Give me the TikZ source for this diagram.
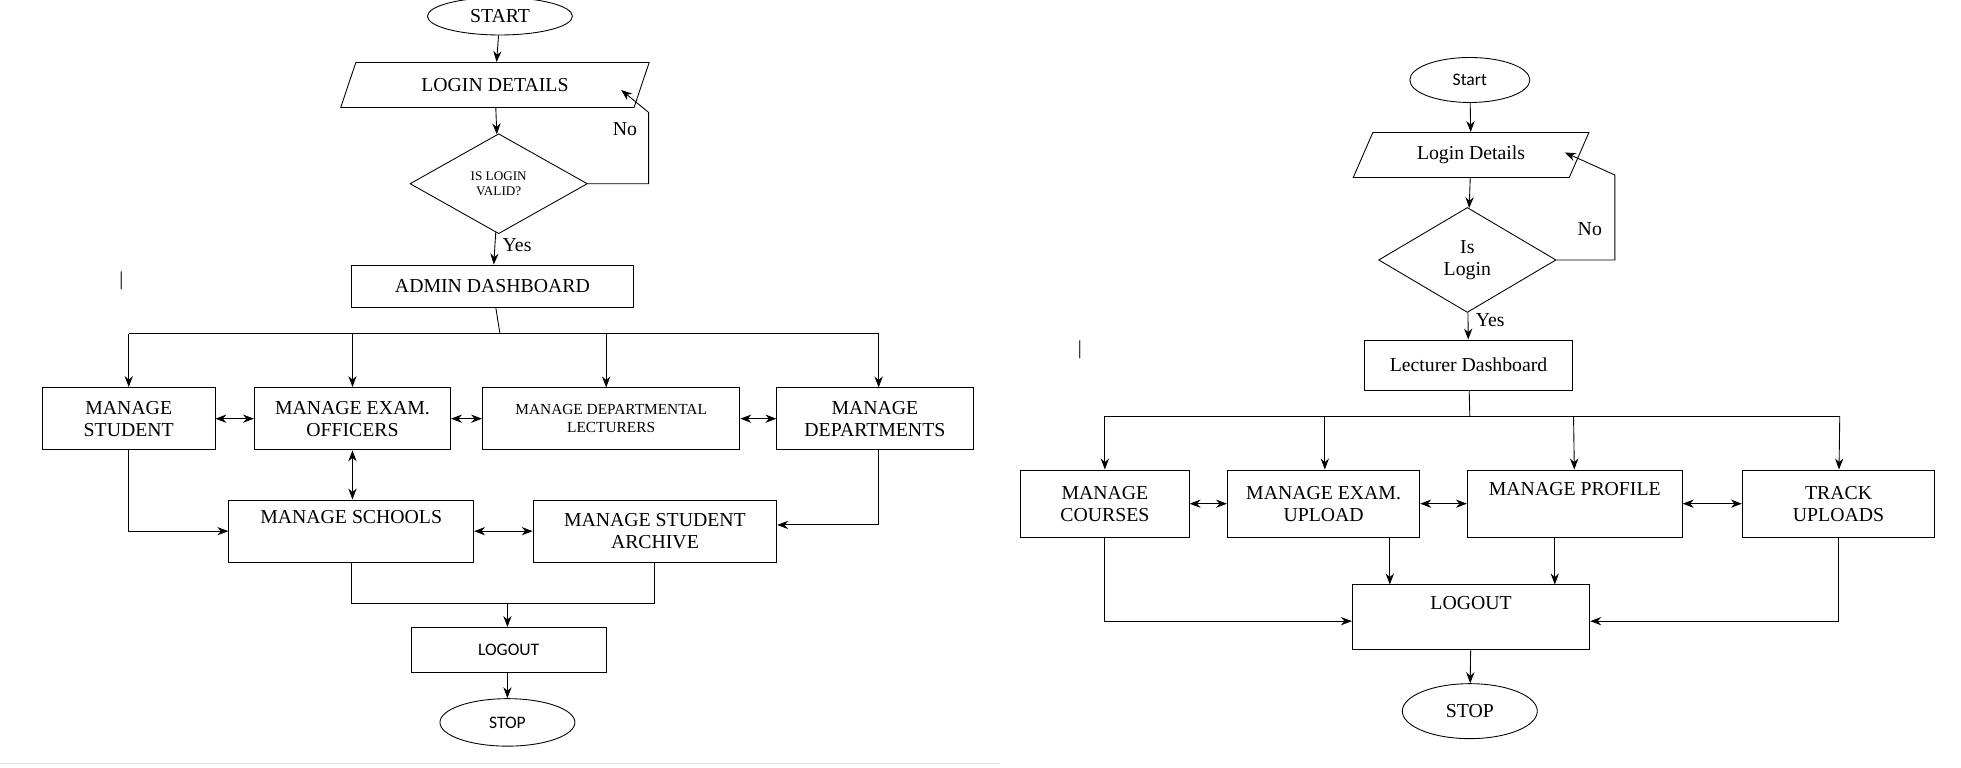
\documentclass[tikz,border=0pt]{standalone}
\usepackage{fontspec}
\setmainfont{Liberation Serif}
\newfontfamily\sansf{Carlito}
\usetikzlibrary{shapes.geometric,arrows.meta}
\begin{document}
\begin{tikzpicture}[x=0.02cm,y=-0.02cm,
    box/.style = {draw, align=center, inner sep=1pt, font=\fontsize{9}{10}\selectfont},
    term/.style = {draw, ellipse, inner sep=0pt, font=\fontsize{9}{10}\selectfont},
    io/.style = {draw, trapezium, trapezium left angle=59, trapezium right angle=121,
        trapezium stretches=true, inner sep=0pt, font=\fontsize{9}{10}\selectfont},
    dec/.style = {draw, diamond, inner sep=0pt, align=center},
    line/.style = {-{Stealth[length=5pt]}},
    both/.style = {{Stealth[length=5pt]}-{Stealth[length=5pt]}},
    lab/.style = {font=\fontsize{9}{10}\selectfont}]
    \useasboundingbox (0,0) rectangle (1569,614);

    % admin flow
    \node[term, minimum width=2.32cm, minimum height=0.6cm] (start) at (400,13) {START};
    \node[io, minimum width=4.96cm, minimum height=0.72cm] (login) at (396,68) {LOGIN DETAILS};
    \node[dec, minimum width=2.84cm, minimum height=1.6cm, font=\fontsize{6}{7}\selectfont] (valid) at (399,147) {IS LOGIN\\VALID?};
    \node[box, minimum width=4.5cm, minimum height=0.68cm] (admin) at (394,229) {ADMIN DASHBOARD};
    \node[box, minimum width=2.76cm, minimum height=1cm] (student) at (103,335) {MANAGE\\STUDENT};
    \node[box, minimum width=3.14cm, minimum height=1cm] (officers) at (282,335) {MANAGE EXAM.\\OFFICERS};
    \node[box, minimum width=4.12cm, minimum height=1cm, font=\fontsize{7}{8}\selectfont] (lect) at (489,335) {MANAGE DEPARTMENTAL\\LECTURERS};
    \node[box, minimum width=3.14cm, minimum height=1cm] (depts) at (700,335) {MANAGE\\DEPARTMENTS};
    \node[box, minimum width=3.92cm, minimum height=1cm] (schools) at (281,425) {MANAGE SCHOOLS\\\strut};
    \node[box, minimum width=3.9cm, minimum height=1cm] (archive) at (524,425) {MANAGE STUDENT\\ARCHIVE};
    \node[box, minimum width=3.12cm, minimum height=0.72cm, font=\sansf\fontsize{8}{9}\selectfont] (logout) at (407,520) {LOGOUT};
    \node[term, minimum width=2.16cm, minimum height=0.76cm, font=\sansf\fontsize{8}{9}\selectfont] (stop) at (406,578) {STOP};
    \coordinate (busl) at (400,267);
    \coordinate (merge) at (406,483);
    \coordinate (nol) at (519,90);
    \coordinate (noend) at (497,72);

    \draw[line] (start) -- (login);
    \draw[line] (login) -- (valid);
    \draw[line] (valid) -- node[lab, right, pos=0.4] {Yes} (admin);
    \draw[line] (valid.east) -| (nol) -- (noend);
    \node[lab] (no) at (500,103) {No};
    \draw (admin) -- (busl);
    \draw (103,267) -- (703,267);
    \draw[line] (103,267) -- (student);
    \draw[line] (282,267) -- (officers);
    \draw[line] (485,267) -- (485,310);
    \draw[line] (703,267) -- (703,310);
    \draw[both] (student) -- (officers);
    \draw[both] (officers) -- (lect);
    \draw[both] (lect) -- (depts);
    \draw[both] (officers) -- (schools.north -| officers);
    \draw[both] (schools) -- (archive);
    \draw[line] (student) |- (schools);
    \draw[line] (depts.south -| 703,0) |- (archive.east |- 0,420);
    \draw (schools) |- (merge) -| (archive);
    \draw[line] (merge) -- (logout.north -| merge);
    \draw[line] (logout.south -| merge) -- (stop);

    % lecturer flow
    \node[term, minimum width=1.92cm, minimum height=0.72cm, font=\sansf\fontsize{8}{9}\selectfont] (start2) at (1176,64) {Start};
    \node[io, minimum width=3.78cm, minimum height=0.72cm] (login2) at (1177,124) {Login Details};
    \node[dec, minimum width=2.84cm, minimum height=1.68cm, font=\fontsize{9}{10}\selectfont] (valid2) at (1174,208) {Is\\Login};
    \node[box, minimum width=3.32cm, minimum height=0.8cm] (dash2) at (1175,292) {Lecturer Dashboard};
    \node[box, minimum width=2.7cm, minimum height=1.08cm] (courses) at (884,403) {MANAGE\\COURSES};
    \node[box, minimum width=3.08cm, minimum height=1.08cm] (upload) at (1059,403) {MANAGE EXAM.\\UPLOAD};
    \node[box, minimum width=3.44cm, minimum height=1.08cm] (profile) at (1260,403) {MANAGE PROFILE\\\strut};
    \node[box, minimum width=3.08cm, minimum height=1.08cm] (track) at (1471,403) {TRACK\\UPLOADS};
    \node[box, minimum width=3.8cm, minimum height=1.04cm] (logout2) at (1177,494) {LOGOUT\\\strut};
    \node[term, minimum width=2.16cm, minimum height=0.88cm] (stop2) at (1176,569) {STOP};
    \coordinate (bus2) at (1176,333);
    \coordinate (nor) at (1292,140);
    \coordinate (noend2) at (1252,122);

    \draw[line] (start2) -- (login2);
    \draw[line] (login2) -- (valid2);
    \draw[line] (valid2) -- node[lab, right, pos=0.3] {Yes} (dash2);
    \draw[line] (valid2.east) -| (nor) -- (noend2);
    \node[lab] (no2) at (1272,183) {No};
    \draw (dash2) -- (bus2);
    \draw (884,333) -- (1472,333);
    \draw[line] (884,333) -- (courses);
    \draw[line] (1060,333) -- (upload.north -| 1060,0);
    \draw[line] (1259,333) -- (profile);
    \draw[line] (1472,333) -- (track);
    \draw[both] (courses) -- (upload);
    \draw[both] (upload) -- (profile);
    \draw[both] (profile) -- (track);
    \draw[line] (upload.south -| 1112,0) -- (logout2.north -| 1112,0);
    \draw[line] (profile.south -| 1244,0) -- (logout2.north -| 1244,0);
    \draw[line] (courses) |- (logout2.west |- 0,497);
    \draw[line] (track) |- (logout2.east |- 0,497);
    \draw[line] (logout2) -- (stop2);

    % stray marks
    \node[lab] (bar1) at (97,225) {|};
    \node[lab] (bar2) at (864,280) {|};
    \draw[black!10] (0,611) -- (800,611);
\end{tikzpicture}
\end{document}
